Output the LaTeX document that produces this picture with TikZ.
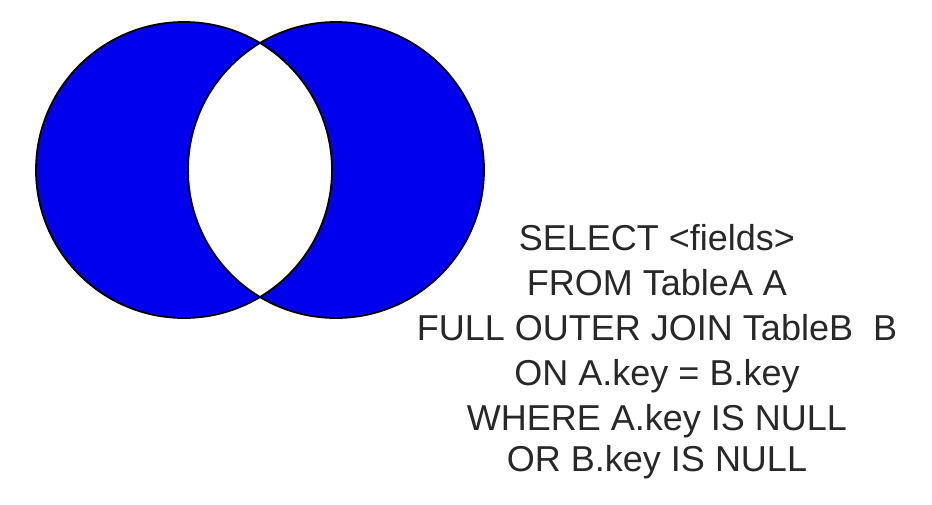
\documentclass[tikz,border=0pt]{standalone}
\usepackage{fontspec}
\setmainfont{Liberation Sans}
\definecolor{vennblue}{RGB}{0,0,238}
\definecolor{sqltext}{RGB}{40,40,40}
\begin{document}
\begin{tikzpicture}[x=1pt,y=-1pt,
  ring/.style={draw=black,line width=1.8pt},
  sqlline/.style={anchor=base,inner sep=0pt,text=sqltext,font=\fontsize{36}{45}\selectfont}]
\useasboundingbox[fill=white] (0,0) rectangle (932,504);
\coordinate (ca) at (184,170);
\coordinate (cb) at (336,170);
\fill[vennblue,even odd rule] (ca) circle[radius=148] (cb) circle[radius=148];
\draw[ring] (ca) circle[radius=148];
\draw[ring] (cb) circle[radius=148];
\node[sqlline] (l1) at (657,250) {SELECT <fields>};
\node[sqlline] (l2) at (657,295) {FROM TableA A};
\node[sqlline] (l3) at (657,340) {FULL OUTER JOIN TableB\ \ B};
\node[sqlline] (l4) at (657,385) {ON A.key = B.key};
\node[sqlline] (l5) at (657,430) {WHERE A.key IS NULL};
\node[sqlline] (l6) at (657,471) {OR B.key IS NULL};
\end{tikzpicture}
\end{document}
